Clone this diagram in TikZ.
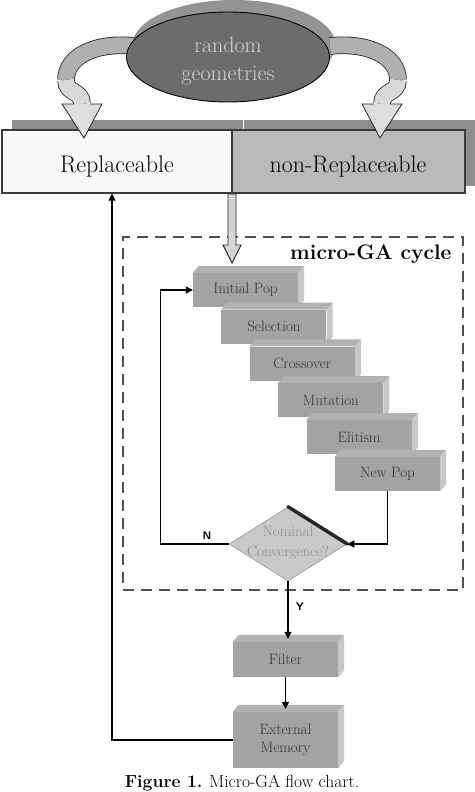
\documentclass[tikz,border=0pt]{standalone}
\usetikzlibrary{arrows.meta,shapes.geometric}
\definecolor{barshadow}{HTML}{8E8E8E}
\definecolor{replfill}{HTML}{F8F8F8}
\definecolor{nonreplfill}{HTML}{B9B9B9}
\definecolor{boxline}{HTML}{3A3A3A}
\definecolor{ellshadow}{HTML}{939393}
\definecolor{ellfill}{HTML}{6C6C6C}
\definecolor{elltext}{HTML}{D2D2D2}
\definecolor{bandupper}{HTML}{B0B0B0}
\definecolor{bandlower}{HTML}{D8D8D8}
\definecolor{headfill}{HTML}{DEDEDE}
\definecolor{dashgray}{HTML}{505050}
\definecolor{frontgray}{HTML}{A3A3A3}
\definecolor{topgray}{HTML}{B2B2B2}
\definecolor{sidegray}{HTML}{C8C8C8}
\definecolor{steptext}{HTML}{333333}
\definecolor{diafill}{HTML}{C9C9C9}
\definecolor{diatextc}{HTML}{8C8C8C}
\definecolor{blockfill}{HTML}{D4D4D4}

\tikzset{
 barbox/.style={draw=boxline, line width=1.2pt, minimum height=63pt, inner sep=0pt},
 stepfront/.style={fill=frontgray, minimum width=105pt, minimum height=34pt, inner sep=0pt,
   text=steptext, align=center, font=\fontsize{15}{18}\selectfont},
 topface/.style={fill=topgray},
 sideface/.style={fill=sidegray},
 flow/.style={draw=black, line width=1.3pt, -{Triangle[length=7pt,width=7pt]}},
 band/.style={line width=0.8pt, draw=black!85, double distance=16pt},
 headline/.style={draw=black!85, line width=0.8pt, line join=miter},
 ynlabel/.style={font=\sffamily\bfseries\fontsize{11}{12}\selectfont},
 bartext/.style={anchor=base, font=\fontsize{24}{28}\selectfont, text=black}
}

\newcommand{\gastep}[5]{%
  \node[stepfront, minimum height=#4] (#1) at (#2,#3) {#5};
  \fill[topface] (#1.north west) -- ([shift={(6,-7)}]#1.north west) -- ([shift={(6,-7)}]#1.north east) -- (#1.north east) -- cycle;
  \fill[sideface] (#1.north east) -- ([shift={(6,-7)}]#1.north east) -- ([shift={(6,-7)}]#1.south east) -- (#1.south east) -- cycle;
}

\begin{document}
\begin{tikzpicture}[x=1pt,y=-1pt]
\useasboundingbox (0,0) rectangle (474,792);

% top bar with shadow
\fill[barshadow] (12,120) rectangle (242.5,186);
\fill[barshadow] (243.5,120) rectangle (478,186);
\node[barbox, fill=replfill, minimum width=230pt] (repl) at (117,161.5) {};
\node[barbox, fill=nonreplfill, minimum width=233pt] (nonrepl) at (348.5,161.5) {};
\node[bartext] (repltext) at (117,172) {Replaceable};
\node[bartext] (nonrepltext) at (348,172) {non-Replaceable};

% ellipse shadow
\node[ellipse, fill=ellshadow, minimum width=203pt, minimum height=90pt, inner sep=0pt] (geoshadow) at (234,45) {};

% curved block arrows
\draw[band, double=bandupper] (134,46) .. controls (96,42) and (66,56) .. (66,80);
\draw[band, double=bandlower] (66,80) .. controls (66,94) and (82,90) .. (82,104);
\fill[headfill] (62,104) -- (84,138) -- (102,104) -- cycle;
\draw[headline] (74,104) -- (62,104) -- (84,138) -- (102,104) -- (90,104);

\draw[band, double=bandupper] (330,46) .. controls (368,42) and (398,56) .. (398,80);
\draw[band, double=bandlower] (398,80) .. controls (398,94) and (382,90) .. (382,104);
\fill[headfill] (402,104) -- (380,138) -- (362,104) -- cycle;
\draw[headline] (390,104) -- (402,104) -- (380,138) -- (362,104) -- (374,104);

% ellipse
\node[ellipse, draw=black, line width=0.9pt, fill=ellfill, minimum width=203pt, minimum height=90pt, inner sep=0pt] (geo) at (228,57) {};
\node[align=center, text=elltext, font=\fontsize{22}{28}\selectfont] (geotext) at (228,61.5) {random\\geometries};

% dashed micro-GA box
\node[draw=dashgray, line width=2.6pt, dash pattern=on 11pt off 7pt, minimum width=340pt, minimum height=353pt, inner sep=0pt] (cyclebox) at (293,413.5) {};
\node[anchor=base east, font=\bfseries\fontsize{21}{24}\selectfont] (cyclelabel) at (455,259) {micro-GA cycle};

% block arrow down
\filldraw[fill=blockfill, draw=black!85, line width=0.9pt, line join=miter]
  (228,194) -- (228,245) -- (223,245) -- (232,263) -- (241,245) -- (236,245) -- (236,194) -- cycle;

% steps
\gastep{initpop}{245.5}{290}{34}{Initial Pop}
\gastep{selection}{273.9}{326.8}{34}{Selection}
\gastep{crossover}{302.3}{363.6}{34}{Crossover}
\gastep{mutation}{330.7}{400.4}{34}{Mutation}
\gastep{elitism}{359.1}{437.2}{34}{Elitism}
\gastep{newpop}{387.5}{474}{34}{New Pop}

% diamond
\node[diamond, draw=black!40, line width=0.6pt, fill=diafill, minimum width=118pt, minimum height=74pt, inner sep=0pt] (dia) at (288,544) {};
\draw[line width=3.5pt, black!85, line cap=round] (dia.north) -- (dia.east);
\node[align=center, text=diatextc, font=\fontsize{15}{20}\selectfont] (diatext) at (288,543) {Nominal\\Convergence?};

% filter and memory
\gastep{filter}{285.5}{659.5}{35}{Filter}
\gastep{extmem}{285.5}{740}{56}{External\\Memory}

% connectors
\draw[flow] (newpop.south) |- (dia.east);
\draw[flow] (dia.west) -- ++(-68,0) |- (initpop.west);
\node[ynlabel] (nlabel) at (207,536) {N};
\draw[flow, shorten >=3pt] (dia.south) -- (dia.south |- filter.north);
\node[ynlabel] (ylabel) at (300,607) {Y};
\draw[flow, shorten >=3pt] (filter.south) -- (filter.south |- extmem.north);
\draw[flow] (extmem.west) -| ([xshift=-5pt]repl.south);

% caption
\node[anchor=base, font=\fontsize{17.5}{20}\selectfont] (caption) at (242,787) {\textbf{Figure 1.} Micro-GA flow chart.};
\end{tikzpicture}
\end{document}
